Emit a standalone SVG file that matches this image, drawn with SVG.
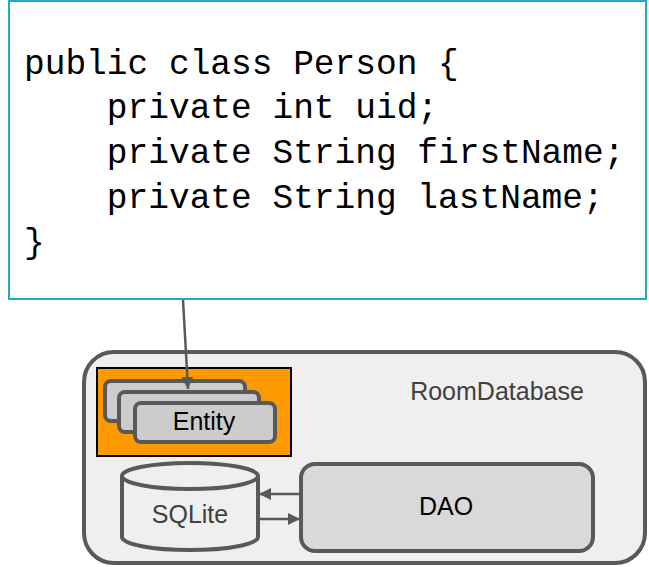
<svg xmlns="http://www.w3.org/2000/svg" width="649" height="567" viewBox="0 0 649 567">
<style>
.code{font-family:"Liberation Mono","DejaVu Sans Mono",monospace;font-size:34.5px;fill:#000}
.lbl{font-family:"Liberation Sans",Arial,sans-serif;font-size:25px;text-anchor:middle}
.card{fill:#cccccc;stroke:#595959;stroke-width:4}
.conn{stroke:#595959;stroke-width:2.5;fill:none}
</style>
<defs>
<marker id="ah" viewBox="0 0 10 10" refX="10" refY="5" markerWidth="12" markerHeight="12" orient="auto" markerUnits="userSpaceOnUse">
<path d="M0,0 L10,5 L0,10 z" fill="#595959"/>
</marker>
</defs>
<rect width="649" height="567" fill="#ffffff"/>
<g id="code">
<rect x="9" y="1" width="637" height="298" fill="#ffffff" stroke="#23a9c4" stroke-width="2"/>
<text class="code" x="24" y="74">public class Person {</text>
<text class="code" x="24" y="118" xml:space="preserve">    private int uid;</text>
<text class="code" x="24" y="163" xml:space="preserve">    private String firstName;</text>
<text class="code" x="24" y="208" xml:space="preserve">    private String lastName;</text>
<text class="code" x="24" y="253">}</text>
</g>
<g id="roomdatabase">
<rect x="84" y="352" width="561" height="211" rx="30" fill="#efefef" stroke="#595959" stroke-width="4"/>
<text class="lbl" x="497" y="400" fill="#404040">RoomDatabase</text>
</g>
<g id="entity">
<rect x="97" y="368" width="194" height="88" fill="#ff9900" stroke="#000" stroke-width="2"/>
<rect class="card" x="105" y="381" width="140" height="40" rx="6"/>
<rect class="card" x="119" y="392" width="140" height="40" rx="6"/>
<rect class="card" x="135" y="403" width="140" height="39" rx="6"/>
<text class="lbl" x="204" y="430" fill="#000">Entity</text>
</g>
<g id="sqlite">
<path d="M122,476 L122,537 A68,13 0 0 0 258,537 L258,476 A68,13 0 0 0 122,476 A68,13 0 0 0 258,476" fill="#efefef" stroke="#595959" stroke-width="4"/>
<text class="lbl" x="190" y="523" fill="#404040">SQLite</text>
</g>
<g id="dao">
<rect x="301" y="464" width="292" height="87" rx="14" fill="#d9d9d9" stroke="#595959" stroke-width="4"/>
<text class="lbl" x="446" y="515" fill="#000">DAO</text>
</g>
<g id="connectors">
<line class="conn" x1="183" y1="300" x2="188" y2="389" marker-end="url(#ah)"/>
<line class="conn" x1="300" y1="494" x2="259" y2="494" marker-end="url(#ah)"/>
<line class="conn" x1="259" y1="519" x2="300" y2="519" marker-end="url(#ah)"/>
</g>
</svg>
